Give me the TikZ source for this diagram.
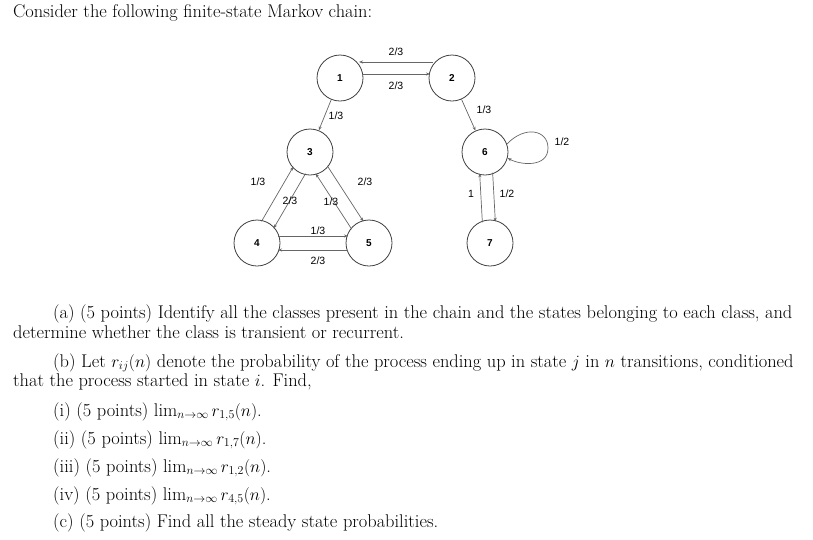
\documentclass[tikz,border=0pt]{standalone}
\usepackage{fontspec}
\newfontfamily\arial{Liberation Sans}
\usetikzlibrary{calc,arrows.meta}
\begin{document}
\begin{tikzpicture}[x=1pt,y=-1pt,
  st/.style={circle,draw=black!75,line width=0.8pt,minimum size=46pt,inner sep=0pt,font=\arial\bfseries\fontsize{10}{11}\selectfont},
  arr/.style={draw=black!60,line width=0.7pt,-{Stealth[length=4pt,width=3pt]}},
  lb/.style={font=\arial\fontsize{10.5}{11}\selectfont,inner sep=1pt},
  tx/.style={anchor=base west,inner sep=0pt,font=\fontsize{18.4}{21}\selectfont}]
\useasboundingbox (0,0) rectangle (813,539);
\node[st] (n1) at (340,78) {1};
\node[st] (n2) at (452,78) {2};
\node[st] (n3) at (310,152) {3};
\node[st] (n6) at (485,152) {6};
\node[st] (n4) at (257,243) {4};
\node[st] (n5) at (369,243) {5};
\node[st] (n7) at (490,243) {7};
% parallel pairs
\draw[arr,shorten <=19pt,shorten >=19pt] ($(n2)+(0,-16)$) -- ($(n1)+(0,-16)$);
\draw[arr,shorten <=22pt,shorten >=22pt] ($(n1)+(0,-4)$) -- ($(n2)+(0,-4)$);
\draw[arr,shorten <=21pt,shorten >=21pt] ($(n3)!7pt!90:(n4)$) -- ($(n4)!7pt!-90:(n3)$);
\draw[arr,shorten <=21pt,shorten >=21pt] ($(n4)!7pt!90:(n3)$) -- ($(n3)!7pt!-90:(n4)$);
\draw[arr,shorten <=21pt,shorten >=21pt] ($(n3)!7pt!90:(n5)$) -- ($(n5)!7pt!-90:(n3)$);
\draw[arr,shorten <=21pt,shorten >=21pt] ($(n5)!7pt!90:(n3)$) -- ($(n3)!7pt!-90:(n5)$);
\draw[arr,shorten <=21pt,shorten >=21pt] ($(n4)!7pt!90:(n5)$) -- ($(n5)!7pt!-90:(n4)$);
\draw[arr,shorten <=21pt,shorten >=21pt] ($(n5)!7pt!90:(n4)$) -- ($(n4)!7pt!-90:(n5)$);
\draw[arr,shorten <=21pt,shorten >=21pt] ($(n6)!6.5pt!90:(n7)$) -- ($(n7)!6.5pt!-90:(n6)$);
\draw[arr,shorten <=21pt,shorten >=21pt] ($(n7)!6.5pt!90:(n6)$) -- ($(n6)!6.5pt!-90:(n7)$);
\draw[arr] (n1) -- (n3);
\draw[arr] (n2) -- (n6);
\draw[arr] (n6.20) .. controls (525,125) and (548,130) .. (548,148) .. controls (548,168) and (520,165) .. (n6.-15);
% labels
\node[lb] (l12a) at (396,52) {2/3};
\node[lb] (l12b) at (396,86) {2/3};
\node[lb] (l13) at (336,116) {1/3};
\node[lb] (l26) at (484,110) {1/3};
\node[lb] (l66) at (562,142) {1/2};
\node[lb] (l34) at (258,182) {1/3};
\node[lb] (l43) at (290,201) {2/3};
\node[lb] (l53) at (331,202) {1/3};
\node[lb] (l35) at (365,182) {2/3};
\node[lb] (l45) at (318,231) {1/3};
\node[lb] (l54) at (318,261) {2/3};
\node[lb] (l76) at (471,194) {1};
\node[lb] (l67) at (507,194) {1/2};
% text
\node[tx] (t0) at (13,17) {Consider the following finite-state Markov chain:};
\node[tx] (t1) at (53,318) {(a) (5 points) Identify all the classes present in the chain and the states belonging to each class, and};
\node[tx] (t2) at (13,338) {determine whether the class is transient or recurrent.};
\node[tx] (t3) at (53,367) {(b) Let $r_{ij}(n)$ denote the probability of the process ending up in state $j$ in $n$ transitions, conditioned};
\node[tx] (t4) at (13,386) {that the process started in state $i$. Find,};
\node[tx] (t5) at (53,416) {(i) (5 points) $\lim_{n\to\infty} r_{1,5}(n)$.};
\node[tx] (t6) at (53,444) {(ii) (5 points) $\lim_{n\to\infty} r_{1,7}(n)$.};
\node[tx] (t7) at (53,472) {(iii) (5 points) $\lim_{n\to\infty} r_{1,2}(n)$.};
\node[tx] (t8) at (53,500) {(iv) (5 points) $\lim_{n\to\infty} r_{4,5}(n)$.};
\node[tx] (t9) at (53,527) {(c) (5 points) Find all the steady state probabilities.};
\end{tikzpicture}
\end{document}
